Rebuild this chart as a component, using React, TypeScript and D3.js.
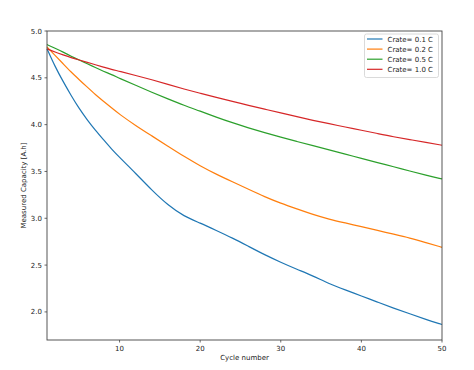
import React from "react";
import * as d3 from "d3";

const cycles = [1, 2, 3, 4, 5, 6, 7, 8, 9, 10, 12, 14, 16, 18, 20, 22, 24, 26, 28, 30, 32, 34, 36, 38, 40, 42, 44, 46, 48, 50];

const crate01 = [4.81, 4.62, 4.46, 4.31, 4.17, 4.05, 3.94, 3.84, 3.74, 3.65, 3.48, 3.3, 3.14, 3.02, 2.95, 2.87, 2.79, 2.7, 2.61, 2.53, 2.455, 2.385, 2.3, 2.235, 2.17, 2.105, 2.04, 1.98, 1.92, 1.865];
const crate02 = [4.83, 4.74, 4.65, 4.56, 4.48, 4.4, 4.32, 4.25, 4.18, 4.11, 3.99, 3.88, 3.77, 3.66, 3.56, 3.47, 3.39, 3.31, 3.23, 3.16, 3.1, 3.04, 2.99, 2.95, 2.91, 2.87, 2.83, 2.79, 2.74, 2.69];
const crate05 = [4.855, 4.815, 4.775, 4.73, 4.69, 4.65, 4.61, 4.57, 4.535, 4.495, 4.42, 4.345, 4.275, 4.205, 4.145, 4.08, 4.02, 3.965, 3.915, 3.865, 3.82, 3.775, 3.73, 3.685, 3.64, 3.595, 3.55, 3.505, 3.46, 3.42];
const crate10 = [4.81, 4.775, 4.745, 4.715, 4.69, 4.665, 4.64, 4.615, 4.59, 4.57, 4.525, 4.48, 4.43, 4.38, 4.335, 4.29, 4.25, 4.205, 4.165, 4.125, 4.085, 4.045, 4.01, 3.975, 3.94, 3.905, 3.87, 3.84, 3.81, 3.78];

const seriesNames = ["Crate= 0.1 C", "Crate= 0.2 C", "Crate= 0.5 C", "Crate= 1.0 C"];
const seriesValues = [crate01, crate02, crate05, crate10];
const colors = ["#1f77b4", "#ff7f0e", "#2ca02c", "#d62728"];

const xTicks = [10, 20, 30, 40, 50];
const yTicks = [2.0, 2.5, 3.0, 3.5, 4.0, 4.5, 5.0];

const W = 474;
const H = 370;
const margin = { top: 31, right: 32, bottom: 30, left: 47 };
const font = "'DejaVu Sans', sans-serif";

export default function App() {
  const x = d3.scaleLinear().domain([1, 50]).range([margin.left, W - margin.right]);
  const y = d3.scaleLinear().domain([1.7, 5.0]).range([H - margin.bottom, margin.top]);

  const line = d3
    .line<number>()
    .x((_, i) => x(cycles[i]))
    .y((d) => y(d))
    .curve(d3.curveBasis);

  const x0 = margin.left;
  const x1 = W - margin.right;
  const y0 = H - margin.bottom;
  const y1 = margin.top;

  // legend placement
  const lgX = 364.5;
  const lgY = 34;
  const rowH = 10.1;

  return (
    <svg
      width={W}
      height={H}
      style={{ position: "absolute", left: 0, top: 0, background: "#fff" }}
      fontFamily={font}
    >
      <rect x={0} y={0} width={W} height={H} fill="#fff" />
      <g>
        {seriesValues.map((vals, i) => (
          <path key={i} d={line(vals) || ""} fill="none" stroke={colors[i]} strokeWidth={1.2} />
        ))}
      </g>

      {/* frame */}
      <rect x={x0} y={y1} width={x1 - x0} height={y0 - y1} fill="none" stroke="#444" strokeWidth={0.9} />

      {/* x axis */}
      {xTicks.map((t) => (
        <g key={t}>
          <line x1={x(t)} x2={x(t)} y1={y0} y2={y0 + 2.5} stroke="#444" strokeWidth={0.8} />
          <text x={x(t)} y={y0 + 10.5} fontSize={7} textAnchor="middle" fill="#222">
            {t}
          </text>
        </g>
      ))}
      <text x={(x0 + x1) / 2} y={360} fontSize={7} textAnchor="middle" fill="#222">
        Cycle number
      </text>

      {/* y axis */}
      {yTicks.map((t) => (
        <g key={t}>
          <line x1={x0 - 2.5} x2={x0} y1={y(t)} y2={y(t)} stroke="#444" strokeWidth={0.8} />
          <text x={x0 - 5} y={y(t) + 2.5} fontSize={7} textAnchor="end" fill="#222">
            {t.toFixed(1)}
          </text>
        </g>
      ))}
      <text
        transform={`translate(26,${(y0 + y1) / 2}) rotate(-90)`}
        fontSize={7}
        textAnchor="middle"
        fill="#222"
      >
        Measured Capacity [A.h]
      </text>

      {/* legend */}
      <rect x={lgX} y={lgY} width={74} height={43.5} rx={2} fill="#fff" fillOpacity={0.8} stroke="#d0d0d0" strokeWidth={0.8} />
      {seriesNames.map((name, i) => (
        <g key={name}>
          <line
            x1={lgX + 2.5}
            x2={lgX + 18}
            y1={lgY + 5 + i * rowH}
            y2={lgY + 5 + i * rowH}
            stroke={colors[i]}
            strokeWidth={1.2}
          />
          <text x={lgX + 23} y={lgY + 7.5 + i * rowH} fontSize={7} fill="#222">
            {name}
          </text>
        </g>
      ))}
    </svg>
  );
}
